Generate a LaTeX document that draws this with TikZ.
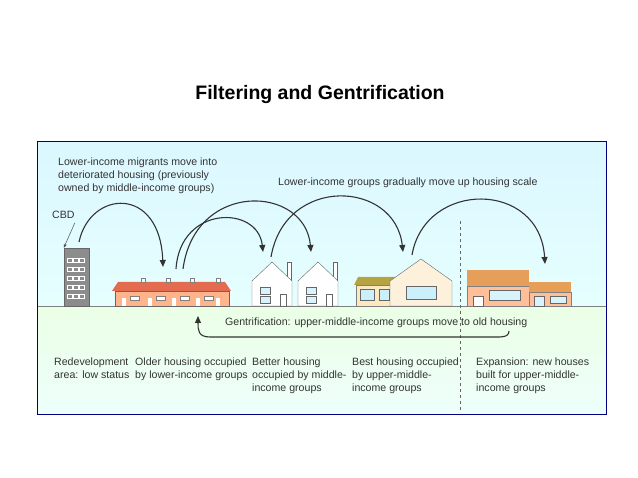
\documentclass[tikz,border=0pt]{standalone}
\usepackage{fontspec}
\setmainfont{Liberation Sans}
\usetikzlibrary{arrows.meta}
\begin{document}
\begin{tikzpicture}[x=1pt,y=-1pt,
  lbl/.style={anchor=west,align=left,font=\fontsize{10.6}{13}\selectfont,text=black!80,inner sep=0},
  arc/.style={line width=1.1pt,black!80,-{Triangle[length=7pt,width=6pt]}},
  wall/.style={draw=black!60,line width=0.4pt}]
\useasboundingbox (0,0) rectangle (638,478);
\fill[white] (0,0) rectangle (638,478);
\node[font=\bfseries\fontsize{19.5}{22}\selectfont] (title) at (320,95) {Filtering and Gentrification};
% sky and ground
\shade[top color=blue!22!cyan!14, bottom color=cyan!10!white] (37,142) rectangle (606,306);
\shade[top color=yellow!22!green!10, bottom color=yellow!15!cyan!8] (37,306) rectangle (606,415);
\draw[black!50,line width=0.5pt] (37,306) -- (606,306);
\draw[blue!50!black,line width=1pt] (37,142) rectangle (606,415);
% dashed divider
\draw[black!60,dashed,line width=0.5pt] (460,221) -- (460,411);
% CBD tower
\node[wall,fill=black!45,minimum width=25pt,minimum height=58pt,inner sep=0] (cbd) at (76.5,277) {};
\foreach \r in {0,...,4}{\foreach \c in {0,1,2}{\draw[white,line width=0.4pt] (67.5+\c*6,258+\r*9) rectangle ++(5,4);}}
% terrace
\fill[red!45!brown!80] (112,291) -- (118,282) -- (225,282) -- (231,291) -- cycle;
\node[wall,fill=red!30!orange!45,minimum width=114pt,minimum height=15pt,inner sep=0,anchor=north west] (terrace) at (115,291) {};
\foreach \x in {143,168,192,218}{\fill[white,draw=black!50,line width=0.3pt] (\x-2,278) rectangle (\x+2,282);}
\foreach \x in {122,148,172,196,216}{\fill[white] (\x,298) rectangle ++(4,8);}
\foreach \x in {130,156,180,204}{\fill[white,draw=black!50,line width=0.3pt] (\x,296) rectangle ++(9,4);}
% white houses
\foreach \n/\x in {h1/252,h2/298}{
  \fill[white,draw=black!60,line width=0.4pt] (\x+35,262) rectangle (\x+39,281);
  \fill[white,draw=black!60,line width=0.4pt] (\x,306) -- (\x,281) -- (\x+20,262) -- (\x+40,281) -- (\x+40,306) -- cycle;
  \coordinate (\n) at (\x+20,262);
  \fill[cyan!15,draw=black!60] (\x+8,287) rectangle ++(10,7);
  \fill[cyan!15,draw=black!60] (\x+8,296) rectangle ++(10,7);
  \fill[white,draw=black!60] (\x+28,294) rectangle ++(6,12);
}
% best housing
\fill[olive!60!brown!80] (354,285) -- (358,277) -- (396,277) -- (396,285) -- cycle;
\fill[yellow!25!orange!22,draw=black!50,line width=0.3pt] (356,285) rectangle (393,306);
\fill[cyan!20,draw=black!60] (360,289) rectangle ++(14,11);
\fill[cyan!20,draw=black!60] (379,289) rectangle ++(10,11);
\fill[yellow!20!orange!12,draw=black!60,line width=0.4pt] (390,306) -- (390,281) -- (421,259) -- (452,281) -- (452,306) -- cycle;
\coordinate (best) at (421,259);
\fill[cyan!20,draw=black!60] (406,286) rectangle ++(30,13);
% new houses
\fill[orange!45!brown!75] (467,270) rectangle (529,286);
\fill[red!25!orange!40,draw=black!50,line width=0.3pt] (467,286) rectangle (529,306);
\fill[orange!50!brown!75] (529,282) rectangle (571,292);
\fill[red!25!orange!40,draw=black!50,line width=0.3pt] (529,292) rectangle (571,306);
\fill[white,draw=black!60] (473,296) rectangle ++(10,10);
\fill[cyan!15,draw=black!60] (489,290) rectangle ++(31,10);
\fill[cyan!15,draw=black!60] (534,296) rectangle ++(10,10);
\fill[cyan!15,draw=black!60] (550,296) rectangle ++(16,7);
\coordinate (newh) at (545,264);
% labels
\node[lbl] (t1) at (58,176) {Lower-income migrants move into\\deteriorated housing (previously\\owned by middle-income groups)};
\node[lbl] (t2) at (278,183) {Lower-income groups gradually move up housing scale};
\node[lbl] (cbdl) at (52,215) {CBD};
\draw[black!70,-{Stealth[length=4pt]},line width=0.5pt] (cbdl.south east) ++(0,4) -- (cbd.north west);
% arcs
\draw[arc] (79,242) .. controls (90,190) and (160,185) .. (163,267);
\draw[arc] (176,269) .. controls (180,205) and (258,205) .. (263,252);
\draw[arc] (183,269) .. controls (195,180) and (305,185) .. (311,252);
\draw[arc] (271,257) .. controls (285,175) and (395,180) .. (403,252);
\draw[arc] (412,255) .. controls (425,180) and (540,180) .. (545,264);
% gentrification
\node[lbl] (gen) at (225,323) {Gentrification: upper-middle-income groups move to old housing};
\draw[arc] (509,331) .. controls (509,338) and (500,337) .. (490,337) -- (210,337) .. controls (198,337) and (198,330) .. (198,316);
% bottom labels
\node[lbl,anchor=north west] (b1) at (54,358) {Redevelopment\\area: low status};
\node[lbl,anchor=north west] (b2) at (135,358) {Older housing occupied\\by lower-income groups};
\node[lbl,anchor=north west] (b3) at (252,358) {Better housing\\occupied by middle-\\income groups};
\node[lbl,anchor=north west] (b4) at (352,358) {Best housing occupied\\by upper-middle-\\income groups};
\node[lbl,anchor=north west] (b5) at (476,358) {Expansion: new houses\\built for upper-middle-\\income groups};
\end{tikzpicture}
\end{document}
